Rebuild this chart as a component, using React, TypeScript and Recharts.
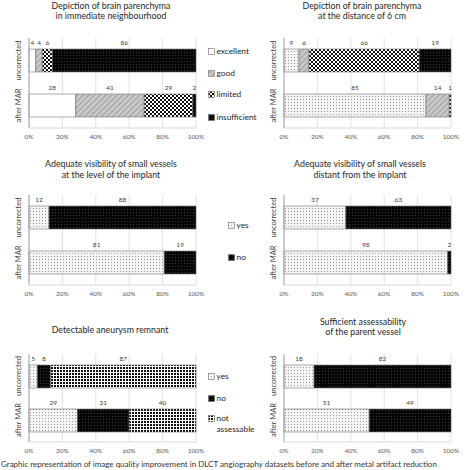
import React from 'react';
import { BarChart, Bar, XAxis, YAxis, CartesianGrid, LabelList } from 'recharts';

const ROWS = ['uncorrected', 'after MAR'];
const X_TICKS = [0, 20, 40, 60, 80, 100];

const P1_TITLE = ['Depiction of brain parenchyma', 'in immediate neighbourhood'];
const QUALITY_KEYS = ['excellent', 'good', 'limited', 'insufficient'];
const P1_UNCORRECTED = [4, 4, 6, 86];
const P1_AFTER = [28, 41, 29, 2];

const P2_TITLE = ['Depiction of brain parenchyma', 'at the distance of 6 cm'];
const P2_UNCORRECTED = [9, 6, 66, 19];
const P2_AFTER = [85, 14, 1, 0];

const P3_TITLE = ['Adequate visibility of small vessels', 'at the level of the implant'];
const YN_KEYS = ['yes', 'no'];
const P3_UNCORRECTED = [12, 88];
const P3_AFTER = [81, 19];

const P4_TITLE = ['Adequate visibility of small vessels', 'distant from the implant'];
const P4_UNCORRECTED = [37, 63];
const P4_AFTER = [98, 2];

const P5_TITLE = ['Detectable aneurysm remnant'];
const ANEURYSM_KEYS = ['yes', 'no', 'not assessable'];
const P5_UNCORRECTED = [5, 8, 87];
const P5_AFTER = [29, 31, 40];

const P6_TITLE = ['Sufficient assessability', 'of the parent vessel'];
const P6_UNCORRECTED = [18, 82];
const P6_AFTER = [51, 49];

const CAPTION =
  'Graphic representation of image quality improvement in DLCT angiography datasets before and after metal artifact reduction';

const FONT = 'Lato, "Open Sans", sans-serif';

function Patterns() {
  return (
    <svg width={0} height={0} style={{ position: 'absolute' }}>
      <defs>
        <pattern id="pWhite" width={4} height={4} patternUnits="userSpaceOnUse">
          <rect width={4} height={4} fill="#ffffff" />
        </pattern>
        <pattern id="pDots" width={3} height={3} patternUnits="userSpaceOnUse">
          <rect width={3} height={3} fill="#f4f4f4" />
          <rect x={0} y={0} width={1} height={1} fill="#9a9a9a" />
        </pattern>
        <pattern id="pHatch" width={4} height={4} patternUnits="userSpaceOnUse" patternTransform="rotate(45)">
          <rect width={4} height={4} fill="#b0b0b0" />
          <rect width={1.5} height={4} fill="#d6d6d6" />
        </pattern>
        <pattern id="pChecker" width={4} height={4} patternUnits="userSpaceOnUse">
          <rect width={4} height={4} fill="#111111" />
          <rect x={0} y={0} width={2} height={2} fill="#ffffff" />
          <rect x={2} y={2} width={2} height={2} fill="#ffffff" />
        </pattern>
        <pattern id="pBlack" width={3} height={3} patternUnits="userSpaceOnUse">
          <rect width={3} height={3} fill="#050505" />
          <rect x={1} y={1} width={1} height={1} fill="#3a3a3a" />
        </pattern>
        <pattern id="pGrid" width={3} height={3} patternUnits="userSpaceOnUse">
          <rect width={3} height={3} fill="#ffffff" />
          <rect x={0} y={0} width={2} height={2} fill="#111111" />
        </pattern>
      </defs>
    </svg>
  );
}

const YTick = (props: any) => {
  const { x, y, payload } = props;
  const tx = x - 11;
  return (
    <text
      x={tx}
      y={y}
      transform={`rotate(-90 ${tx} ${y})`}
      textAnchor="middle"
      dominantBaseline="central"
      fontSize={7.5}
      fill="#404040"
      fontFamily={FONT}
    >
      {payload.value}
    </text>
  );
};

type PanelProps = {
  col: number;
  plotTop: number;
  plotBottom: number;
  keys: string[];
  uncorrected: number[];
  after: number[];
  fills: string[];
};

function Panel({ col, plotTop, plotBottom, keys, uncorrected, after, fills }: PanelProps) {
  const chartLeft = col === 0 ? 0 : 237;
  const plotLeft = col === 0 ? 29 : 284;
  const plotRight = col === 0 ? 196 : 451;
  const chartTop = plotTop - 5;
  const axisH = 20;
  const height = plotBottom - plotTop + 5 + axisH;
  const data = ROWS.map((name, i) => {
    const vals = i === 0 ? uncorrected : after;
    const row: any = { name };
    keys.forEach((k, j) => {
      row[k] = vals[j];
    });
    return row;
  });
  return (
    <div style={{ position: 'absolute', left: chartLeft, top: chartTop }}>
      <BarChart
        width={237}
        height={height}
        data={data}
        layout="vertical"
        margin={{ top: 5, bottom: 0, left: 0, right: chartLeft + 237 - plotRight }}
        barSize={23}
      >
        <CartesianGrid horizontal={false} stroke="#d9d9d9" strokeWidth={0.8} />
        <XAxis
          type="number"
          domain={[0, 100]}
          ticks={X_TICKS}
          interval={0}
          tickFormatter={(v: number) => `${v}%`}
          tickLine={false}
          tickSize={0}
          tickMargin={6}
          axisLine={{ stroke: '#d9d9d9' }}
          height={axisH}
          tick={{ fontSize: 6.5, fill: '#595959', fontFamily: FONT }}
        />
        <YAxis
          type="category"
          dataKey="name"
          width={plotLeft - chartLeft}
          tickLine={false}
          tickSize={0}
          tickMargin={0}
          axisLine={{ stroke: '#a6a6a6' }}
          tick={<YTick />}
        />
        {keys.map((k, j) => (
          <Bar
            key={k}
            dataKey={k}
            stackId="s"
            fill={`url(#${fills[j]})`}
            stroke="#6f6f6f"
            strokeWidth={0.6}
            isAnimationActive={false}
          >
            <LabelList
              dataKey={k}
              position="top"
              offset={4}
              formatter={(v: any) => (v === 0 ? '' : v)}
              style={{ fontSize: 6.5, fill: '#404040', fontFamily: FONT }}
            />
          </Bar>
        ))}
      </BarChart>
    </div>
  );
}

function Title({ lines, center, firstLineCenter }: { lines: string[]; center: number; firstLineCenter: number }) {
  const lh = 10.5;
  return (
    <div
      style={{
        position: 'absolute',
        left: center - 100,
        width: 200,
        top: firstLineCenter - lh / 2,
        textAlign: 'center',
        fontFamily: FONT,
        fontSize: 8.8,
        lineHeight: `${lh}px`,
        color: '#262626',
        whiteSpace: 'nowrap',
      }}
    >
      {lines.map((l) => (
        <div key={l}>{l}</div>
      ))}
    </div>
  );
}

function Legend({
  keys,
  fills,
  left,
  centers,
  wrapWidth,
}: {
  keys: string[];
  fills: string[];
  left: number;
  centers: number[];
  wrapWidth?: number;
}) {
  return (
    <>
      {keys.map((k, i) => (
        <div
          key={k}
          style={{
            position: 'absolute',
            left,
            top: centers[i] - 5,
            display: 'flex',
            alignItems: 'flex-start',
            fontFamily: FONT,
            fontSize: 8.3,
            lineHeight: '10.5px',
            color: '#262626',
          }}
        >
          <svg width={7} height={7} style={{ marginTop: 2, marginRight: 1.5, flex: 'none' }}>
            <rect x={0.5} y={0.5} width={6} height={6} fill={`url(#${fills[i]})`} stroke="#6f6f6f" strokeWidth={0.6} />
          </svg>
          <span style={{ width: wrapWidth, display: 'inline-block' }}>{k}</span>
        </div>
      ))}
    </>
  );
}

export default function App() {
  const qFills1 = ['pWhite', 'pHatch', 'pChecker', 'pBlack'];
  const qFills2 = ['pDots', 'pHatch', 'pChecker', 'pBlack'];
  const ynFills = ['pDots', 'pBlack'];
  const aFills = ['pDots', 'pBlack', 'pGrid'];
  return (
    <div
      style={{
        position: 'absolute',
        left: 0,
        top: 0,
        width: 474,
        height: 470,
        overflow: 'hidden',
        background: '#ffffff',
      }}
    >
      <Patterns />
      <Title lines={P1_TITLE} center={111} firstLineCenter={6} />
      <Title lines={P2_TITLE} center={362} firstLineCenter={6} />
      <Title lines={P3_TITLE} center={111} firstLineCenter={164.5} />
      <Title lines={P4_TITLE} center={360} firstLineCenter={164.5} />
      <Title lines={P5_TITLE} center={110} firstLineCenter={330} />
      <Title lines={P6_TITLE} center={363} firstLineCenter={322} />

      <Panel col={0} plotTop={38} plotBottom={128} keys={QUALITY_KEYS} uncorrected={P1_UNCORRECTED} after={P1_AFTER} fills={qFills1} />
      <Panel col={1} plotTop={38} plotBottom={128} keys={QUALITY_KEYS} uncorrected={P2_UNCORRECTED} after={P2_AFTER} fills={qFills2} />
      <Panel col={0} plotTop={195} plotBottom={285} keys={YN_KEYS} uncorrected={P3_UNCORRECTED} after={P3_AFTER} fills={ynFills} />
      <Panel col={1} plotTop={195} plotBottom={285} keys={YN_KEYS} uncorrected={P4_UNCORRECTED} after={P4_AFTER} fills={ynFills} />
      <Panel col={0} plotTop={354} plotBottom={442} keys={ANEURYSM_KEYS} uncorrected={P5_UNCORRECTED} after={P5_AFTER} fills={aFills} />
      <Panel col={1} plotTop={354} plotBottom={442} keys={YN_KEYS} uncorrected={P6_UNCORRECTED} after={P6_AFTER} fills={ynFills} />

      <Legend keys={QUALITY_KEYS} fills={qFills1} left={208} centers={[51, 73, 94, 117]} />
      <Legend keys={YN_KEYS} fills={ynFills} left={228} centers={[225, 257]} />
      <Legend keys={ANEURYSM_KEYS} fills={aFills} left={208} centers={[376, 398, 418]} wrapWidth={40} />

      <div
        style={{
          position: 'absolute',
          left: 1,
          top: 459,
          width: 472,
          whiteSpace: 'nowrap',
          overflow: 'visible',
          fontFamily: FONT,
          fontSize: 8.0,
          lineHeight: '10px',
          color: '#333333',
        }}
      >
        {CAPTION}
      </div>
    </div>
  );
}
